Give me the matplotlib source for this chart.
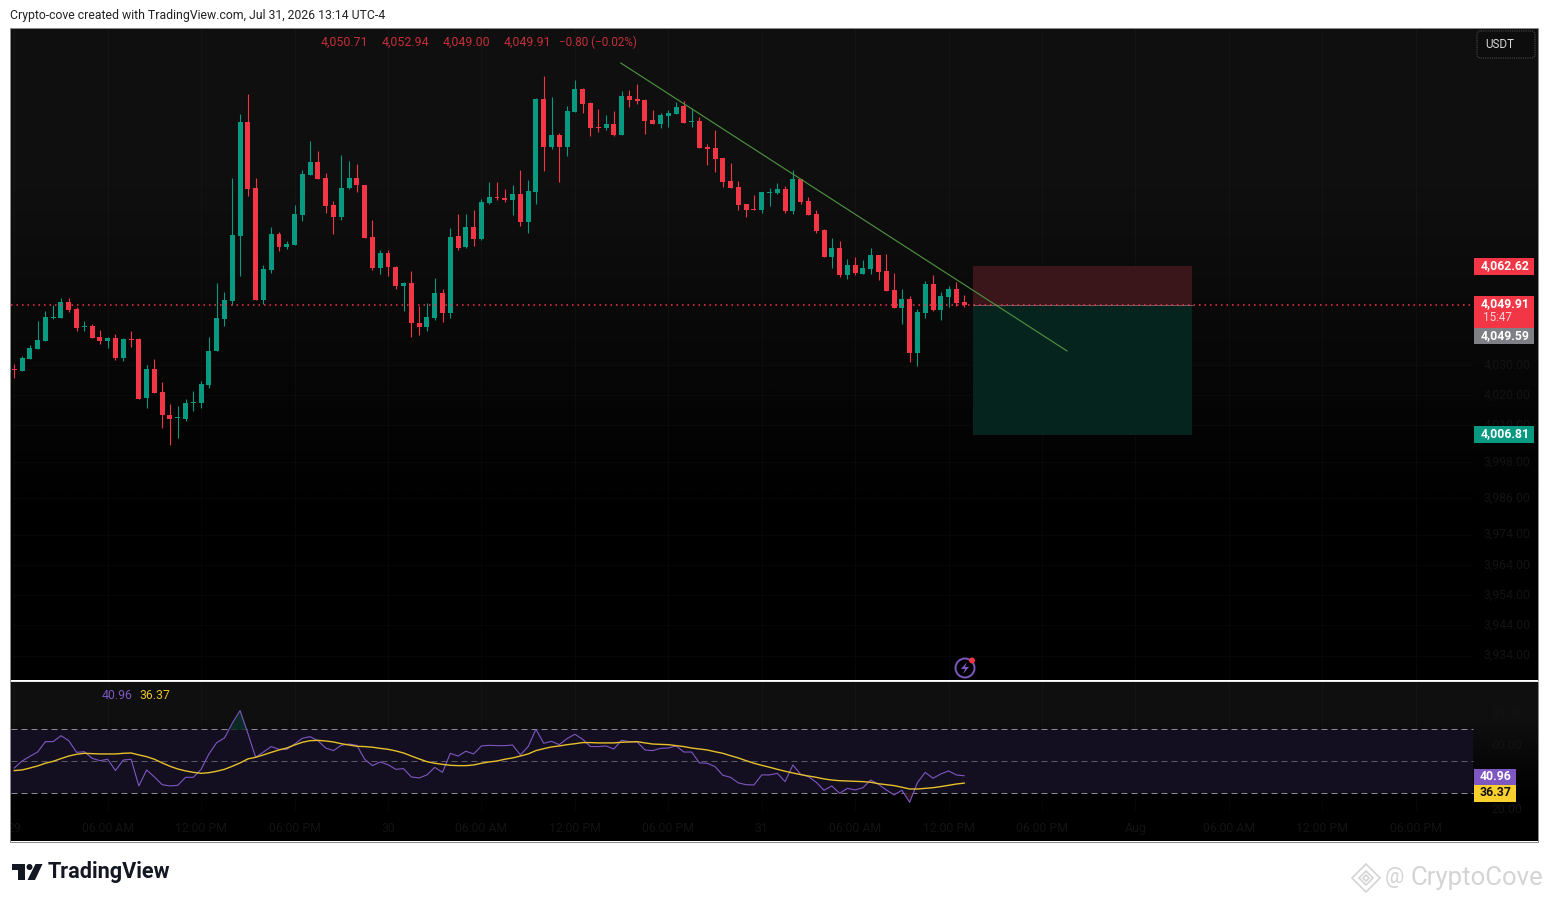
import numpy as np
import matplotlib
matplotlib.use("Agg")
import matplotlib.pyplot as plt
from matplotlib.colors import LinearSegmentedColormap
from matplotlib.patches import Rectangle, Polygon, Circle, FancyBboxPatch
from matplotlib.transforms import blended_transform_factory

plt.rcParams["font.family"] = ["Roboto", "DejaVu Sans"]

UP = "#089981"
DOWN = "#f23645"
PURPLE = "#7e57c2"
YELLOW = "#f2cb2c"
FAINT = "#131313"
GRID = (1, 1, 1, 0.028)

# 30 min candles
opens = [4028.6, 4028.0, 4031.9, 4035.2, 4037.9, 4045.4, 4045.5, 4050.7, 4048.4, 4042.6,
         4042.8, 4039.2, 4037.9, 4038.9, 4032.3, 4038.5, 4038.5, 4019.1, 4028.6, 4021.0,
         4013.5, 4012.6, 4012.1, 4017.5, 4017.4, 4023.4, 4034.6, 4045.1, 4051.1, 4072.5,
         4110.1, 4088.4, 4051.4, 4061.3, 4073.2, 4068.9, 4069.6, 4079.5, 4092.7, 4096.9,
         4091.7, 4082.8, 4078.8, 4088.4, 4091.7, 4089.4, 4072.2, 4062.0, 4066.9, 4062.3,
         4056.0, 4057.0, 4043.8, 4042.5, 4045.5, 4053.7, 4047.1, 4072.5, 4068.9, 4075.5,
         4071.5, 4083.4, 4085.4, 4085.1, 4084.4, 4086.4, 4077.1, 4087.0, 4117.7, 4101.9,
         4105.9, 4101.9, 4113.4, 4121.0, 4116.4, 4108.5, 4108.2, 4109.5, 4105.9, 4118.7,
         4117.7, 4117.4, 4110.8, 4109.5, 4112.1, 4112.8, 4115.4, 4110.1, 4110.5, 4101.9,
         4101.6, 4098.3, 4090.7, 4088.7, 4083.1, 4081.4, 4081.1, 4086.7, 4086.7, 4088.0,
         4080.8, 4091.3, 4084.1, 4079.8, 4074.5, 4065.6, 4068.6, 4059.7, 4063.0, 4060.0,
         4061.6, 4066.3, 4061.0, 4054.7, 4048.8, 4051.7, 4033.9, 4047.1, 4056.7, 4048.1,
         4052.4, 4055.0, 4050.71]
closes = [4028.4, 4032.3, 4035.6, 4038.2, 4045.8, 4045.7, 4050.7, 4048.1, 4042.2, 4042.8,
          4038.9, 4037.9, 4038.9, 4032.3, 4038.5, 4038.3, 4018.7, 4028.6, 4020.7, 4013.5,
          4012.1, 4012.8, 4017.4, 4017.7, 4023.7, 4034.6, 4045.5, 4051.4, 4072.9, 4110.1,
          4088.0, 4051.4, 4061.6, 4073.2, 4068.9, 4069.9, 4079.8, 4093.0, 4096.9, 4091.3,
          4082.4, 4078.8, 4088.4, 4091.7, 4089.4, 4071.9, 4062.0, 4066.9, 4062.3, 4056.0,
          4057.0, 4043.8, 4042.5, 4045.8, 4053.7, 4047.1, 4072.2, 4068.6, 4075.5, 4071.5,
          4083.7, 4085.4, 4085.1, 4084.4, 4086.4, 4077.1, 4087.4, 4117.7, 4101.9, 4105.9,
          4101.9, 4113.8, 4121.0, 4116.1, 4108.2, 4108.2, 4109.5, 4105.9, 4118.7, 4117.4,
          4117.1, 4110.5, 4109.5, 4112.5, 4113.1, 4115.1, 4109.8, 4110.5, 4101.6, 4101.2,
          4097.9, 4090.3, 4088.4, 4082.8, 4081.1, 4081.1, 4087.0, 4087.0, 4088.0, 4080.8,
          4091.3, 4083.7, 4079.5, 4074.2, 4065.6, 4068.6, 4059.7, 4063.0, 4060.3, 4062.0,
          4066.3, 4060.6, 4054.4, 4048.8, 4051.7, 4033.9, 4047.4, 4056.7, 4048.1, 4052.7,
          4055.0, 4050.4, 4049.91]
highs = [4030.3, 4032.9, 4036.6, 4044.5, 4047.8, 4049.8, 4052.1, 4052.1, 4049.1, 4044.5,
         4043.5, 4041.5, 4039.2, 4040.2, 4038.9, 4041.2, 4038.9, 4030.0, 4031.9, 4024.3,
         4017.1, 4016.4, 4018.7, 4021.4, 4024.7, 4039.2, 4057.0, 4054.0, 4091.7, 4112.8,
         4119.4, 4091.7, 4063.0, 4075.5, 4073.8, 4070.9, 4082.8, 4094.3, 4103.9, 4100.6,
         4093.3, 4084.1, 4099.3, 4097.3, 4096.3, 4089.4, 4077.8, 4067.9, 4067.9, 4062.6,
         4057.3, 4061.0, 4049.4, 4050.4, 4058.7, 4055.0, 4075.2, 4079.8, 4079.8, 4081.1,
         4084.7, 4090.3, 4090.3, 4088.0, 4089.4, 4094.3, 4091.0, 4118.1, 4125.3, 4118.4,
         4106.5, 4115.4, 4124.0, 4121.4, 4116.7, 4114.4, 4112.5, 4113.8, 4120.4, 4120.7,
         4122.7, 4117.7, 4114.1, 4113.1, 4114.1, 4116.7, 4117.1, 4114.8, 4111.8, 4102.9,
         4107.5, 4098.3, 4096.6, 4090.7, 4083.1, 4086.1, 4087.0, 4088.4, 4090.0, 4089.0,
         4094.3, 4091.3, 4085.4, 4081.1, 4074.8, 4071.9, 4070.9, 4064.9, 4065.6, 4064.6,
         4068.6, 4066.3, 4066.6, 4060.3, 4055.0, 4052.7, 4048.4, 4057.7, 4059.7, 4054.0,
         4056.0, 4057.3, 4052.94]
lows = [4025.8, 4028.0, 4031.9, 4035.2, 4037.9, 4045.1, 4045.5, 4047.4, 4041.2, 4041.2,
        4038.9, 4036.9, 4035.6, 4031.6, 4031.3, 4035.9, 4018.7, 4015.8, 4020.7, 4009.2,
        4003.6, 4005.9, 4011.5, 4014.8, 4015.8, 4022.4, 4034.6, 4042.8, 4049.8, 4059.3,
        4085.7, 4051.4, 4050.1, 4060.3, 4067.6, 4068.2, 4069.6, 4077.5, 4092.7, 4091.3,
        4080.1, 4073.2, 4077.8, 4088.0, 4087.0, 4071.9, 4061.3, 4060.0, 4059.3, 4055.0,
        4047.8, 4039.2, 4039.9, 4041.2, 4044.8, 4044.1, 4045.5, 4067.9, 4068.6, 4069.2,
        4071.2, 4083.1, 4084.4, 4083.7, 4079.5, 4075.8, 4073.5, 4083.1, 4094.0, 4101.2,
        4090.3, 4098.9, 4113.4, 4113.1, 4105.5, 4106.8, 4107.5, 4105.5, 4105.9, 4115.1,
        4116.1, 4106.2, 4109.5, 4108.2, 4108.5, 4112.8, 4109.8, 4108.5, 4101.6, 4096.0,
        4093.6, 4088.7, 4088.4, 4081.1, 4078.8, 4081.1, 4080.1, 4082.4, 4086.4, 4080.1,
        4079.8, 4083.1, 4079.5, 4073.5, 4065.6, 4062.0, 4059.0, 4058.3, 4059.7, 4060.0,
        4060.0, 4058.0, 4054.4, 4048.8, 4043.5, 4030.9, 4029.6, 4045.5, 4047.8, 4044.8,
        4049.1, 4049.4, 4049.0]

rsi = [45.8, 50.2, 53.1, 55.8, 62.3, 62.3, 66.0, 62.9, 55.6, 56.0,
       51.9, 50.4, 51.3, 44.2, 50.8, 51.3, 34.6, 44.6, 40.2, 35.4,
       34.6, 35.0, 40.0, 40.0, 45.0, 54.6, 61.7, 64.6, 73.8, 81.7,
       67.5, 52.5, 55.8, 59.2, 57.5, 57.5, 60.8, 64.4, 65.4, 62.9,
       58.3, 56.7, 60.0, 60.8, 60.0, 51.3, 47.3, 49.6, 47.9, 45.0,
       45.4, 40.2, 39.6, 41.5, 46.2, 43.1, 55.0, 53.3, 56.3, 54.6,
       59.6, 60.0, 59.8, 59.8, 60.2, 54.0, 59.2, 70.0, 61.3, 62.5,
       60.4, 64.2, 66.9, 63.8, 59.2, 59.2, 59.6, 57.7, 63.1, 62.3,
       62.1, 57.1, 56.7, 58.1, 58.3, 59.6, 55.8, 55.8, 49.0, 48.8,
       46.7, 41.3, 40.0, 36.5, 35.4, 35.2, 41.5, 41.5, 42.5, 37.3,
       47.7, 41.9, 40.4, 36.9, 31.9, 34.6, 30.0, 33.1, 32.1, 33.5,
       38.3, 35.6, 32.1, 29.0, 31.9, 24.4, 36.7, 43.1, 39.4, 42.1,
       44.0, 41.5, 40.96]
rsi_ma = [44.2, 44.6, 45.8, 47.1, 48.8, 50.0, 51.7, 53.3, 54.4, 55.0,
          54.8, 54.6, 54.6, 54.6, 55.0, 55.2, 54.0, 52.9, 51.3, 49.0,
          46.9, 45.2, 44.0, 43.1, 42.5, 42.9, 43.8, 45.0, 46.9, 49.0,
          51.5, 52.5, 54.0, 55.6, 57.1, 58.3, 60.2, 61.9, 62.9, 63.1,
          62.7, 62.1, 61.0, 60.2, 59.4, 59.2, 58.8, 58.1, 57.5, 56.5,
          55.2, 53.3, 51.5, 49.8, 48.8, 48.1, 47.5, 47.3, 47.3, 47.7,
          48.8, 49.6, 50.2, 51.3, 52.1, 53.3, 54.6, 56.7, 57.9, 59.0,
          59.6, 60.4, 61.0, 61.7, 61.7, 61.5, 61.5, 61.5, 61.9, 62.1,
          62.3, 61.5, 60.8, 60.6, 60.4, 59.8, 59.2, 58.3, 57.7, 57.1,
          56.0, 55.0, 53.5, 52.1, 50.4, 48.8, 47.5, 46.3, 45.0, 43.8,
          42.7, 41.7, 40.8, 40.0, 39.0, 38.3, 37.9, 37.7, 37.5, 37.3,
          36.9, 36.0, 35.4, 34.8, 33.8, 32.7, 32.7, 33.1, 33.5, 34.2,
          35.0, 35.8, 36.37]

price_ticks = [4030, 4020, 4010, 3998, 3986, 3974, 3964, 3954, 3944, 3934]
rsi_ticks = [80, 60, 20]
rsi_levels = [70, 50, 30]
time_ticks = [0, 12, 24, 36, 48, 60, 72, 84, 96, 108, 120, 132, 144, 156, 168, 180]
time_labels = ["29", "06:00 AM", "12:00 PM", "06:00 PM", "30", "06:00 AM", "12:00 PM", "06:00 PM",
               "31", "06:00 AM", "12:00 PM", "06:00 PM", "Aug", "06:00 AM", "12:00 PM", "06:00 PM"]

last_price = 4049.91
stop_price = 4062.62
entry_price = 4049.59
target_price = 4006.81
trend_x = [77.9, 135.2]
trend_y = [4129.6, 4034.6]
position_x = [123.1, 151.3]

W, H = 1549, 902
x = np.arange(len(opens))
colors = [DOWN if c < o else UP for o, c in zip(opens, closes)]

fig = plt.figure(figsize=(W / 100, H / 100), dpi=100, facecolor="white")


def pane(left, top, right, bottom):
    a = fig.add_axes([left / W, 1 - bottom / H, (right - left) / W, (bottom - top) / H])
    a.set_xticks([])
    a.set_yticks([])
    for s in a.spines.values():
        s.set_visible(False)
    # the chart background fades to black going down
    fade = LinearSegmentedColormap.from_list("fade", ["#0f0f0f", "#000000"])
    a.imshow([[0], [1]], cmap=fade, extent=[0, 1, 0, 1], transform=a.transAxes,
             aspect="auto", interpolation="bilinear", zorder=0)
    return a


XLIM = (-0.42, 195.7)
SCALE_X = 187.35  # price scale starts here

# ---------- price pane ----------
ax = pane(11, 28, 1538, 680)
ax.set_xlim(*XLIM)
ax.set_ylim(3926.0, 4141.16)
ax.vlines(time_ticks, 3926.0, 4141.16, color=GRID, lw=0.72, zorder=1)
ax.hlines(price_ticks, XLIM[0], SCALE_X, color=GRID, lw=0.72, zorder=1)

ax.vlines(x, lows, highs, color=colors, lw=0.8, zorder=3)
ax.bar(x, np.abs(np.array(closes) - np.array(opens)), bottom=np.minimum(opens, closes),
       width=0.64, color=colors, linewidth=0, zorder=4)

ax.add_patch(Rectangle((position_x[0], entry_price), position_x[1] - position_x[0],
                       stop_price - entry_price, fc="#3a1519", ec="none", zorder=2))
ax.add_patch(Rectangle((position_x[0], target_price), position_x[1] - position_x[0],
                       entry_price - target_price, fc="#06241e", ec="none", zorder=2))
ax.plot(position_x, [entry_price, entry_price], color="#5f6167", lw=0.72, zorder=3)
ax.hlines(last_price, XLIM[0], SCALE_X, color="#ff2f45", lw=1.1, linestyles=(0, (1, 2.6)), zorder=5)
ax.plot(trend_x, trend_y, color="#4c8f3f", lw=0.85, zorder=6)

for t in price_ticks:
    ax.text(1507 / 7.786 - 1.84, t, f"{t:,.2f}", color=FAINT, fontsize=8.8, ha="center", va="center", zorder=2)

# ---------- RSI pane ----------
ax2 = pane(11, 681, 1538, 841)
ax2.set_xlim(*XLIM)
ax2.set_ylim(0.19, 100.2)
ax2.vlines(time_ticks, 19, 100.2, color=GRID, lw=0.72, zorder=1)
ax2.add_patch(Rectangle((XLIM[0], rsi_levels[2]), SCALE_X - XLIM[0], rsi_levels[0] - rsi_levels[2],
                        fc="#130e20", ec="none", zorder=2))
for lev in rsi_levels:
    ax2.hlines(lev, XLIM[0], SCALE_X, color="#5d5a68" if lev == 50 else "#8c8a94", lw=0.72,
               linestyles=(0, (6, 4)), zorder=3)
ax2.fill_between(x, rsi, 70, where=np.array(rsi) > 70, interpolate=True, color="#0b2a25", lw=0, zorder=3)
ax2.fill_between(x, rsi, 30, where=np.array(rsi) < 30, interpolate=True, color="#2a1018", lw=0, zorder=3)
ax2.plot(x, rsi, color=PURPLE, lw=0.8, zorder=4)
ax2.plot(x, rsi_ma, color="#e6c02a", lw=1.0, zorder=5)
for t in rsi_ticks:
    ax2.text(1507 / 7.786 - 1.84, t, f"{t:.2f}", color=FAINT, fontsize=8.8, ha="center", va="center", zorder=2)

time_tr = blended_transform_factory(ax2.transData, ax2.transAxes)
for t, lab in zip(time_ticks, time_labels):
    ax2.text(t, 0.081, lab, transform=time_tr, color=FAINT, fontsize=8.8, ha="center", va="center", clip_on=True)

# ---------- things outside the panes, placed in picture pixels ----------
top = fig.add_axes([0, 0, 1, 1], facecolor="none", zorder=10)
top.set_xlim(0, W)
top.set_ylim(H, 0)
top.axis("off")

top.add_patch(Rectangle((10.5, 27.5), 1528, 814, fc="none", ec="#8a8a8a", lw=0.72))
top.plot([11, 1538], [680.5, 680.5], color="#e8e8e8", lw=0.72)

top.text(10, 15, "Crypto-cove created with TradingView.com, Jul 31, 2026 13:14 UTC-4",
         fontsize=8.85, color="#222222", va="center")

for px, s, fs in zip([321, 382, 443, 504, 559],
                     ["4,050.71", "4,052.94", "4,049.00", "4,049.91", "\u22120.80 (\u22120.02%)"],
                     [8.9, 8.9, 8.9, 8.9, 8.4]):
    top.text(px, 42, s, fontsize=fs, color="#c42f3b", va="center")

top.text(102, 695.5, "40.96", fontsize=8.8, color=PURPLE, va="center")
top.text(139, 695.5, "36.37", fontsize=8.8, color="#e6c02a", va="center")

top.add_patch(FancyBboxPatch((1479, 33), 54, 23, boxstyle="round,pad=2,rounding_size=4",
                             fc="#0d0d0d", ec="#4a4a4a", lw=0.8, ls=(0, (1, 1))))
top.text(1500, 44.5, "USDT", fontsize=8.4, color="#d8d8d8", ha="center", va="center")


def tag(x0, x1, y0, y1, color, label, tcolor="white", ty=None):
    top.add_patch(Rectangle((x0, y0), x1 - x0, y1 - y0, fc=color, ec="none"))
    top.text((x0 + x1) / 2 + 1, ty if ty else (y0 + y1) / 2 - 0.5, label, color=tcolor, fontsize=8.8,
             fontweight="bold", ha="center", va="center")


tag(1474, 1534, 258, 274.5, DOWN, "4,062.62")
tag(1474, 1534, 296, 327.5, DOWN, "4,049.91", ty=303.5)
top.text(1497, 317.5, "15:47", color="#fbd5d9", fontsize=8.4, ha="center", va="center")
tag(1474, 1534, 327.5, 344, "#7e8086", "4,049.59")
tag(1474, 1534, 426, 442.5, UP, "4,006.81")
tag(1474, 1516, 768.5, 785, PURPLE, "40.96")
tag(1474, 1516, 785, 801.5, "#f9d02e", "36.37", tcolor="#111111")

# alert icon
top.add_patch(Circle((965, 668), 9.5, fc="none", ec=PURPLE, lw=1.4))
top.add_patch(Polygon([(967, 662), (961, 669), (965, 669), (963, 674), (969, 667), (965, 667)],
                      fc=PURPLE, ec="none"))
top.add_patch(Circle((972, 660.5), 3, fc=DOWN, ec="none"))

# TradingView logo
logo = "#131722"
top.add_patch(Polygon([(12, 864), (25, 864), (25, 880), (18.5, 880), (18.5, 870), (12, 870)], fc=logo, ec="none"))
top.add_patch(Circle((29.5, 867), 3, fc=logo, ec="none"))
top.add_patch(Polygon([(35.5, 864), (42.5, 864), (35, 880), (27.5, 880)], fc=logo, ec="none"))
top.text(48, 872, "TradingView", fontsize=15.6, fontweight="bold", color=logo, va="center")

# watermark
wm = "#d4d4d4"
for r in [14, 7, 3]:
    top.add_patch(Polygon([(1366, 878 - r), (1366 + r, 878), (1366, 878 + r), (1366 - r, 878)],
                          fc="none", ec=wm, lw=1.2))
top.text(1385, 878, "@", fontsize=15.5, color=wm, va="center")
top.text(1411, 878, "CryptoCove", fontsize=18.5, color=wm, va="center")

fig.savefig("out.png", dpi=100, facecolor="white")
